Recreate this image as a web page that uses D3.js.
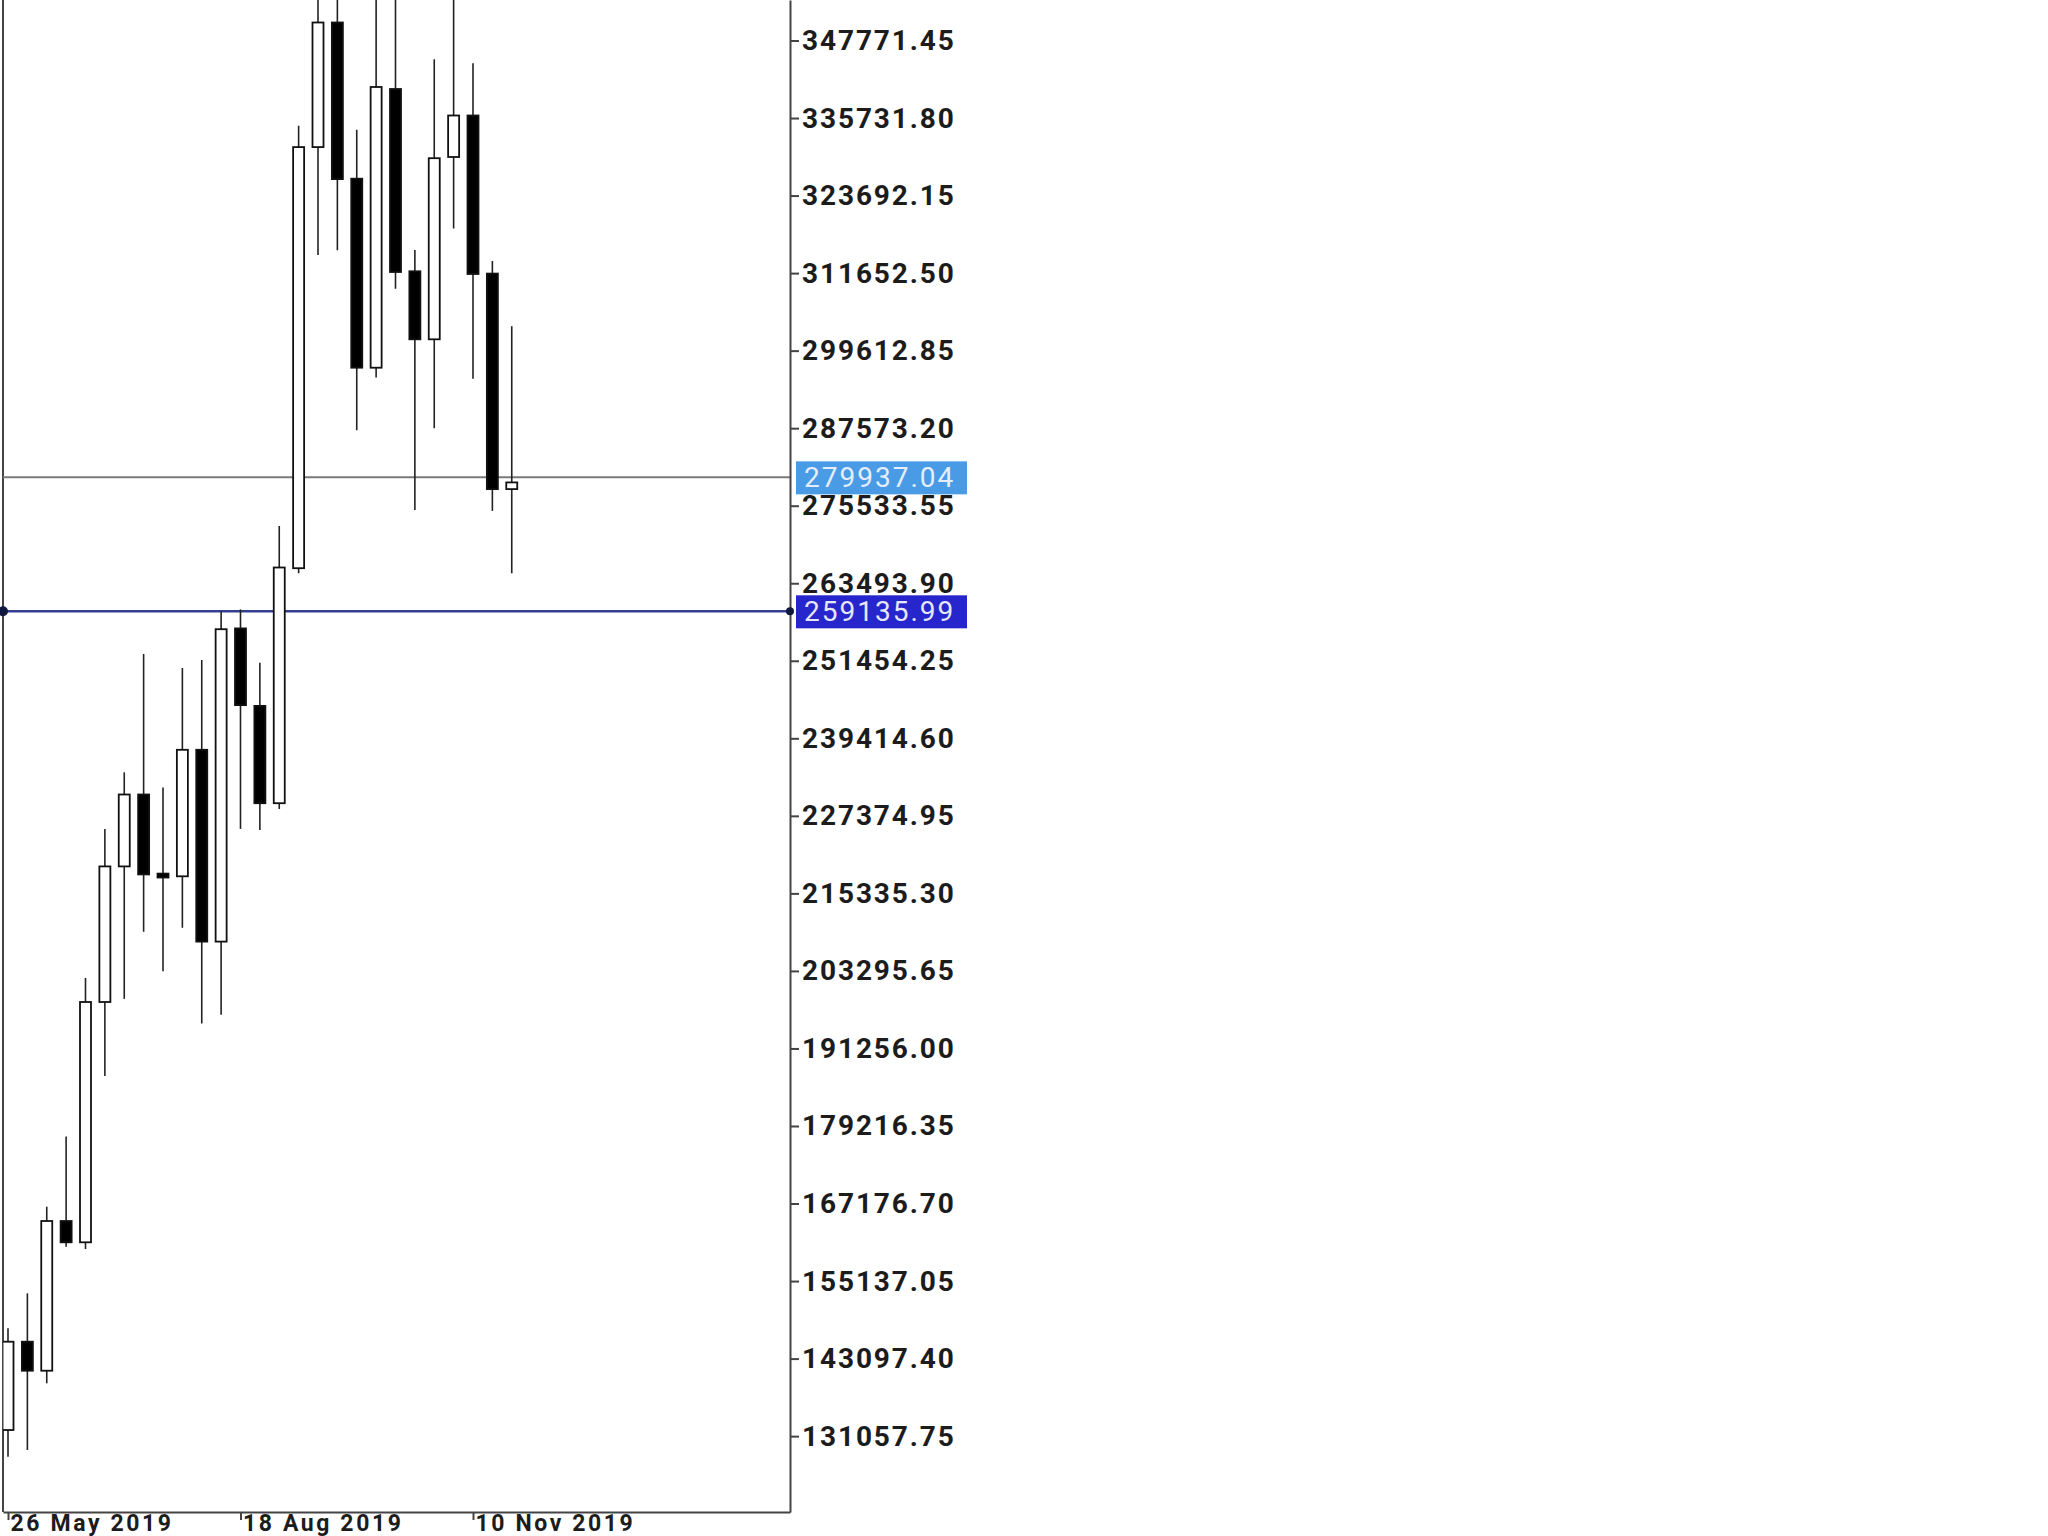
<!DOCTYPE html>
<html>
<head>
<meta charset="utf-8">
<script src="https://cdn.jsdelivr.net/npm/d3@7"></script>
<style>
    body { margin: 0; background: #fff; }
    svg { display: block; }
    .axis text { font-family: Roboto, "Noto Sans", sans-serif; font-weight: bold; font-size: 28px; letter-spacing: 1.9px; fill: #1c1c1c; }
    .axis path, .axis line { stroke: #444; stroke-width: 2; }
</style>
</head>
<body>
<svg id="chart" width="2048" height="1536"></svg>
<script>
// weekly candles
let weeks = [
    '2019-05-26', '2019-06-02', '2019-06-09', '2019-06-16', '2019-06-23', '2019-06-30',
    '2019-07-07', '2019-07-14', '2019-07-21', '2019-07-28', '2019-08-04', '2019-08-11',
    '2019-08-18', '2019-08-25', '2019-09-01', '2019-09-08', '2019-09-15', '2019-09-22',
    '2019-09-29', '2019-10-06', '2019-10-13', '2019-10-20', '2019-10-27', '2019-11-03',
    '2019-11-10', '2019-11-17', '2019-11-24'
]
let opens = [132010, 145721, 141217, 164463, 161156, 198469, 219525, 230690, 218407, 217988, 237631, 207848, 256480, 244448, 229339, 265830, 331218, 350566, 326311, 296963, 340240, 311934, 301373, 329681, 336125, 311575, 278112]
let highs = [147801, 153236, 166684, 177584, 202196, 225348, 234137, 252491, 231793, 250333, 251575, 259121, 259432, 251141, 272398, 334541, 358500, 357000, 333920, 356500, 355800, 315256, 344852, 356000, 344231, 313532, 303408]
let lows = [127864, 128904, 139261, 160472, 160115, 186979, 198951, 209384, 203252, 210007, 195146, 196497, 225348, 225178, 228423, 265038, 314464, 315193, 287258, 295426, 309231, 274851, 287569, 318579, 295240, 274727, 265038]
let closes = [145721, 141217, 164463, 161156, 198469, 219525, 230690, 218283, 217801, 237631, 207848, 256357, 244572, 229339, 265938, 331218, 350566, 326249, 296963, 340551, 311824, 301373, 329495, 336125, 311513, 278112, 279150]

let priceTicks = [347771.45, 335731.80, 323692.15, 311652.50, 299612.85, 287573.20, 275533.55, 263493.90, 251454.25, 239414.60, 227374.95, 215335.30, 203295.65, 191256.00, 179216.35, 167176.70, 155137.05, 143097.40, 131057.75]
let dateTicks = ['2019-05-26', '2019-08-18', '2019-11-10']

let currentPrice = 279937.04
let levelPrice = 259135.99

let parse = d3.timeParse('%Y-%m-%d')
let candles = weeks.map(function (w, i) {
    return { date: parse(w), open: opens[i], high: highs[i], low: lows[i], close: closes[i] }
})

let plotLeft = 3, plotRight = 790, plotTop = 0, plotBottom = 1512

let svg = d3.select('#chart')

// first candle sits at x=8, the 10 Nov one at x=473; stretch domain to the frame
let x = d3.scaleTime()
    .domain([parse(dateTicks[0]), parse(dateTicks[2])])
    .range([8, 473])
x.domain([x.invert(plotLeft), x.invert(plotRight)]).range([plotLeft, plotRight])

let y = d3.scaleLinear()
    .domain([119277, 354060])
    .range([plotBottom, plotTop])

svg.append('clipPath').attr('id', 'plot')
    .append('rect')
    .attr('x', plotLeft).attr('y', plotTop)
    .attr('width', plotRight - plotLeft).attr('height', plotBottom - plotTop)

// left frame edge
svg.append('line')
    .attr('x1', plotLeft).attr('x2', plotLeft)
    .attr('y1', plotTop).attr('y2', plotBottom)
    .attr('stroke', '#444').attr('stroke-width', 2)

let plot = svg.append('g').attr('clip-path', 'url(#plot)')

// price lines
plot.append('line')
    .attr('x1', plotLeft).attr('x2', plotRight)
    .attr('y1', y(currentPrice)).attr('y2', y(currentPrice))
    .attr('stroke', '#7a7a7a').attr('stroke-width', 2)

plot.append('line')
    .attr('x1', plotLeft).attr('x2', plotRight)
    .attr('y1', y(levelPrice)).attr('y2', y(levelPrice))
    .attr('stroke', '#34408f').attr('stroke-width', 2.5)

let bodyW = 11

let candle = plot.selectAll('g.candle')
    .data(candles)
    .enter().append('g')
    .attr('class', 'candle')

candle.append('line')
    .attr('x1', function (d) { return x(d.date) })
    .attr('x2', function (d) { return x(d.date) })
    .attr('y1', function (d) { return y(d.high) })
    .attr('y2', function (d) { return y(d.low) })
    .attr('stroke', '#222')
    .attr('stroke-width', 1.6)

candle.append('rect')
    .attr('x', function (d) { return x(d.date) - bodyW / 2 })
    .attr('y', function (d) { return y(Math.max(d.open, d.close)) })
    .attr('width', bodyW)
    .attr('height', function (d) { return Math.max(2, Math.abs(y(d.open) - y(d.close))) })
    .attr('fill', function (d) { return d.close >= d.open ? '#fff' : '#000' })
    .attr('stroke', '#111')
    .attr('stroke-width', 1.8)

// axes
svg.append('g')
    .attr('class', 'axis')
    .attr('transform', 'translate(' + plotRight + ',0)')
    .call(d3.axisRight(y)
        .tickValues(priceTicks)
        .tickSize(9)
        .tickSizeOuter(0)
        .tickPadding(3)
        .tickFormat(d3.format('.2f')))

let xAxis = svg.append('g')
    .attr('class', 'axis')
    .attr('transform', 'translate(0,' + plotBottom + ')')
    .call(d3.axisBottom(x)
        .tickValues(dateTicks.map(parse))
        .tickSize(8)
        .tickSizeOuter(0)
        .tickFormat(d3.timeFormat('%d %b %Y')))

// dates sit low, just above the bottom edge
xAxis.selectAll('text')
    .attr('text-anchor', 'start')
    .attr('x', 2)
    .attr('y', 19)
    .attr('dy', 0)
    .style('font-size', '23px')
    .style('letter-spacing', '2.6px')

// level dots
svg.selectAll('circle.level')
    .data([plotLeft, plotRight])
    .enter().append('circle')
    .attr('class', 'level')
    .attr('cx', function (d) { return d })
    .attr('cy', y(levelPrice))
    .attr('r', function (d) { return d === plotLeft ? 5 : 4 })
    .attr('fill', '#101840')

// price tags on the axis
let tags = [
    { value: currentPrice, fill: '#4a9be6', text: '#e4eefa' },
    { value: levelPrice, fill: '#2626cc', text: '#e6e6fa' }
]

let tag = svg.selectAll('g.tag')
    .data(tags)
    .enter().append('g')
    .attr('class', 'tag')
    .attr('transform', function (d) { return 'translate(796,' + y(d.value) + ')' })

tag.append('rect')
    .attr('x', 0).attr('y', -16)
    .attr('width', 171).attr('height', 33)
    .attr('fill', function (d) { return d.fill })

tag.append('text')
    .attr('x', 8)
    .attr('dy', '0.36em')
    .style('font-family', 'Roboto, "Noto Sans", sans-serif')
    .style('font-size', '28px')
    .style('letter-spacing', '2px')
    .style('fill', function (d) { return d.text })
    .text(function (d) { return d3.format('.2f')(d.value) })
</script>
</body>
</html>
